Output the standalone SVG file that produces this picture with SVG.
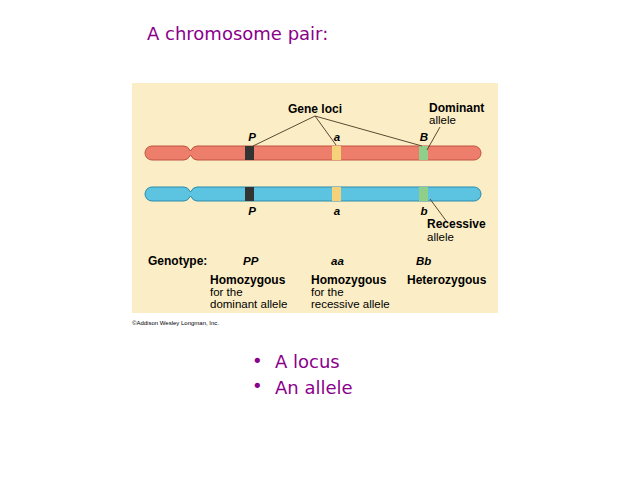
<svg xmlns="http://www.w3.org/2000/svg" width="638" height="478" viewBox="0 0 638 478">
<style>
.t{font-family:"Liberation Sans",Arial,sans-serif;fill:#000}
.b{font-weight:bold;font-size:12px}
.n{font-size:11.5px}
.i{font-style:italic;font-weight:bold;font-size:11.5px}
.p{font-family:"DejaVu Sans",sans-serif;fill:#8b008b;font-size:18px}
.ln{stroke:#5a4a30;stroke-width:1;fill:none}
</style>
<rect width="638" height="478" fill="#fff"/>
<text class="p" x="147" y="40">A chromosome pair:</text>
<rect x="132" y="83" width="366" height="230" fill="#fbeec6"/>
<g id="chromRed">
<path d="M152 146H184Q188 146 190.5 151Q193 146 197 146H474A7 7 0 0 1 474 160H197Q193 160 190.5 155Q188 160 184 160H152A7 7 0 0 1 152 146Z" fill="#ee7e6c" stroke="#c0523f"/>
<rect x="245" y="146" width="9" height="14" fill="#333"/>
<rect x="332" y="146" width="9" height="14" fill="#f5d27a"/>
<rect x="419" y="146" width="9" height="14" fill="#8fcf8a"/>
</g>
<g id="chromBlue">
<path d="M152 187H184Q188 187 190.5 192Q193 187 197 187H474A7 7 0 0 1 474 201H197Q193 201 190.5 196Q188 201 184 201H152A7 7 0 0 1 152 187Z" fill="#5cc3e0" stroke="#2a8bab"/>
<rect x="245" y="187" width="9" height="14" fill="#333"/>
<rect x="332" y="187" width="9" height="14" fill="#f5d27a"/>
<rect x="419" y="187" width="9" height="14" fill="#8fcf8a"/>
</g>
<g id="connectors">
<path class="ln" d="M315 116L253 146M315 116L336 145M315 116L422 146M440 127L427 150M430 199L447 222"/>
</g>
<g id="labels">
<text class="t b" x="315" y="113" text-anchor="middle">Gene loci</text>
<text class="t b" x="429" y="112">Dominant</text>
<text class="t n" x="429" y="124">allele</text>
<text class="t i" x="252" y="141" text-anchor="middle">P</text>
<text class="t i" x="337" y="141" text-anchor="middle">a</text>
<text class="t i" x="424" y="141" text-anchor="middle">B</text>
<text class="t i" x="252" y="215" text-anchor="middle">P</text>
<text class="t i" x="337" y="215" text-anchor="middle">a</text>
<text class="t i" x="424" y="215" text-anchor="middle">b</text>
<text class="t b" x="427" y="228">Recessive</text>
<text class="t n" x="427" y="241">allele</text>
<text class="t b" x="148" y="265">Genotype:</text>
<text class="t i" x="243" y="265">PP</text>
<text class="t i" x="331" y="265">aa</text>
<text class="t i" x="416" y="265">Bb</text>
<text class="t b" x="210" y="284">Homozygous</text>
<text class="t n" x="210" y="296">for the</text>
<text class="t n" x="210" y="308">dominant allele</text>
<text class="t b" x="311" y="284">Homozygous</text>
<text class="t n" x="311" y="296">for the</text>
<text class="t n" x="311" y="308">recessive allele</text>
<text class="t b" x="407" y="284">Heterozygous</text>
<text class="t" x="132" y="325" font-size="6" fill="#444">©Addison Wesley Longman, Inc.</text>
</g>
<text class="p" x="252" y="367">•</text>
<text class="p" x="275" y="368">A locus</text>
<text class="p" x="252" y="392">•</text>
<text class="p" x="275" y="394">An allele</text>
</svg>
